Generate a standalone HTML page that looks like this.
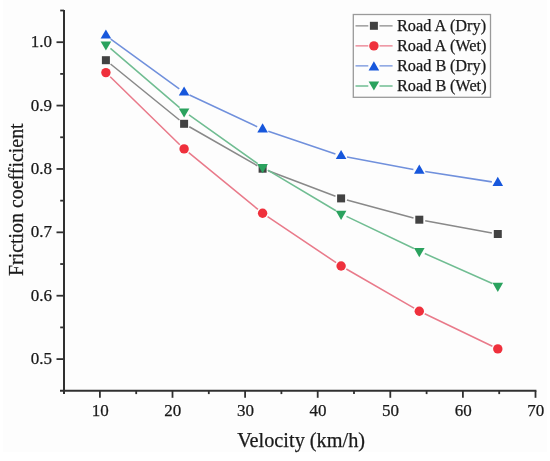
<!DOCTYPE html>
<html><head><meta charset="utf-8"><title>Friction coefficient vs Velocity</title>
<style>
html,body{margin:0;padding:0;background:#ffffff;}
body{width:550px;height:461px;overflow:hidden;}
svg{display:block;font-family:"Liberation Serif","Times New Roman",serif;}
</style></head><body>
<svg width="550" height="461" viewBox="0 0 550 461">
<rect x="0" y="0" width="550" height="461" fill="#ffffff"/>
<rect x="3" y="0" width="544" height="452" fill="#fdfdfd"/>

<g stroke="#303030" stroke-width="2" fill="none" stroke-linecap="butt">
<line x1="64" y1="10" x2="64" y2="394"/>
<line x1="60" y1="390.8" x2="536.4" y2="390.8"/>
<line x1="56.5" y1="359.10" x2="64" y2="359.10" stroke-width="1.8"/>
<line x1="60.2" y1="327.41" x2="64" y2="327.41" stroke-width="1.8"/>
<line x1="56.5" y1="295.72" x2="64" y2="295.72" stroke-width="1.8"/>
<line x1="60.2" y1="264.03" x2="64" y2="264.03" stroke-width="1.8"/>
<line x1="56.5" y1="232.34" x2="64" y2="232.34" stroke-width="1.8"/>
<line x1="60.2" y1="200.65" x2="64" y2="200.65" stroke-width="1.8"/>
<line x1="56.5" y1="168.96" x2="64" y2="168.96" stroke-width="1.8"/>
<line x1="60.2" y1="137.27" x2="64" y2="137.27" stroke-width="1.8"/>
<line x1="56.5" y1="105.58" x2="64" y2="105.58" stroke-width="1.8"/>
<line x1="60.2" y1="73.89" x2="64" y2="73.89" stroke-width="1.8"/>
<line x1="56.5" y1="42.20" x2="64" y2="42.20" stroke-width="1.8"/>
<line x1="60.2" y1="10.51" x2="64" y2="10.51" stroke-width="1.8"/>
<line x1="99.90" y1="390.8" x2="99.90" y2="397.8" stroke-width="1.8"/>
<line x1="136.20" y1="390.8" x2="136.20" y2="394.1" stroke-width="1.8"/>
<line x1="172.50" y1="390.8" x2="172.50" y2="397.8" stroke-width="1.8"/>
<line x1="208.80" y1="390.8" x2="208.80" y2="394.1" stroke-width="1.8"/>
<line x1="245.10" y1="390.8" x2="245.10" y2="397.8" stroke-width="1.8"/>
<line x1="281.40" y1="390.8" x2="281.40" y2="394.1" stroke-width="1.8"/>
<line x1="317.70" y1="390.8" x2="317.70" y2="397.8" stroke-width="1.8"/>
<line x1="354.00" y1="390.8" x2="354.00" y2="394.1" stroke-width="1.8"/>
<line x1="390.30" y1="390.8" x2="390.30" y2="397.8" stroke-width="1.8"/>
<line x1="426.60" y1="390.8" x2="426.60" y2="394.1" stroke-width="1.8"/>
<line x1="462.90" y1="390.8" x2="462.90" y2="397.8" stroke-width="1.8"/>
<line x1="499.20" y1="390.8" x2="499.20" y2="394.1" stroke-width="1.8"/>
<line x1="535.50" y1="390.8" x2="535.50" y2="397.8" stroke-width="1.8"/>
</g>
<g fill="#1a1a1a" font-size="17" stroke="#1a1a1a" stroke-width="0.25">
<text x="52.1" y="47.2" text-anchor="end">1.0</text>
<text x="52.1" y="110.6" text-anchor="end">0.9</text>
<text x="52.1" y="174.0" text-anchor="end">0.8</text>
<text x="52.1" y="237.3" text-anchor="end">0.7</text>
<text x="52.1" y="300.7" text-anchor="end">0.6</text>
<text x="52.1" y="364.1" text-anchor="end">0.5</text>
<text x="100.2" y="416.2" text-anchor="middle">10</text>
<text x="172.8" y="416.2" text-anchor="middle">20</text>
<text x="245.4" y="416.2" text-anchor="middle">30</text>
<text x="318.0" y="416.2" text-anchor="middle">40</text>
<text x="390.6" y="416.2" text-anchor="middle">50</text>
<text x="463.2" y="416.2" text-anchor="middle">60</text>
<text x="535.8" y="416.2" text-anchor="middle">70</text>
</g>
<text x="237.2" y="447.0" font-size="20.3" fill="#1a1a1a" stroke="#1a1a1a" stroke-width="0.25">Velocity (km/h)</text>
<text transform="translate(22.9,276) rotate(-90)" x="0" y="0" font-size="19.9" fill="#1a1a1a" stroke="#1a1a1a" stroke-width="0.25">Friction coefficient</text>
<path d="M110.55,63.99L179.45,120.01M189.31,126.78L257.39,165.72M268.21,170.82L335.49,196.28M346.89,199.98L413.51,218.12M425.20,220.78L491.90,232.92" stroke="#898989" stroke-width="1.55" fill="none"/>
<rect x="101.90" y="56.20" width="8.0" height="8.0" fill="#424242"/>
<rect x="180.10" y="119.80" width="8.0" height="8.0" fill="#424242"/>
<rect x="258.60" y="164.70" width="8.0" height="8.0" fill="#424242"/>
<rect x="337.10" y="194.40" width="8.0" height="8.0" fill="#424242"/>
<rect x="415.30" y="215.70" width="8.0" height="8.0" fill="#424242"/>
<rect x="493.80" y="230.00" width="8.0" height="8.0" fill="#424242"/>
<path d="M110.19,76.79L179.81,144.71M188.74,152.70L257.96,209.40M267.58,216.55L336.12,262.65M346.29,269.00L414.11,308.20M424.71,313.80L492.39,346.30" stroke="#e97a8a" stroke-width="1.55" fill="none"/>
<circle cx="105.90" cy="72.60" r="4.7" fill="#ef303c"/>
<circle cx="184.10" cy="148.90" r="4.7" fill="#ef303c"/>
<circle cx="262.60" cy="213.20" r="4.7" fill="#ef303c"/>
<circle cx="341.10" cy="266.00" r="4.7" fill="#ef303c"/>
<circle cx="419.30" cy="311.20" r="4.7" fill="#ef303c"/>
<circle cx="497.80" cy="348.90" r="4.7" fill="#ef303c"/>
<path d="M110.75,39.03L179.25,88.97M189.53,95.05L257.17,126.75M268.28,131.23L335.42,154.07M347.00,157.10L413.40,169.50M425.23,171.52L491.87,181.88" stroke="#7090dc" stroke-width="1.55" fill="none"/>
<polygon points="105.90,29.40 111.20,38.60 100.60,38.60" fill="#1757dc"/>
<polygon points="184.10,86.40 189.40,95.60 178.80,95.60" fill="#1757dc"/>
<polygon points="262.60,123.20 267.90,132.40 257.30,132.40" fill="#1757dc"/>
<polygon points="341.10,149.90 346.40,159.10 335.80,159.10" fill="#1757dc"/>
<polygon points="419.30,164.50 424.60,173.70 414.00,173.70" fill="#1757dc"/>
<polygon points="497.80,176.70 503.10,185.90 492.50,185.90" fill="#1757dc"/>
<path d="M110.46,48.40L179.54,107.60M189.00,114.97L257.70,163.63M267.76,170.17L335.94,210.73M346.52,216.38L413.88,248.52M424.79,253.53L492.31,283.47" stroke="#70bd92" stroke-width="1.55" fill="none"/>
<polygon points="100.60,41.40 111.20,41.40 105.90,50.60" fill="#2aa25e"/>
<polygon points="178.80,108.40 189.40,108.40 184.10,117.60" fill="#2aa25e"/>
<polygon points="257.30,164.00 267.90,164.00 262.60,173.20" fill="#2aa25e"/>
<polygon points="335.80,210.70 346.40,210.70 341.10,219.90" fill="#2aa25e"/>
<polygon points="414.00,248.00 424.60,248.00 419.30,257.20" fill="#2aa25e"/>
<polygon points="492.50,282.80 503.10,282.80 497.80,292.00" fill="#2aa25e"/>
<rect x="353.3" y="14.5" width="137.2" height="82.8" fill="none" stroke="#9a9a9a" stroke-width="1.3"/>
<path d="M355.5,25.8H368.3M379.5,25.8H392.6" stroke="#898989" stroke-width="1.3"/>
<rect x="369.90" y="21.80" width="8.0" height="8.0" fill="#424242"/>
<text x="397" y="30.8" font-size="16.3" fill="#1a1a1a" stroke="#1a1a1a" stroke-width="0.25">Road A<tspan dx="3.6">(Dry)</tspan></text>
<path d="M355.5,45.9H368.3M379.5,45.9H392.6" stroke="#e97a8a" stroke-width="1.3"/>
<circle cx="373.90" cy="45.90" r="4.7" fill="#ef303c"/>
<text x="397" y="50.9" font-size="16.3" fill="#1a1a1a" stroke="#1a1a1a" stroke-width="0.25">Road A<tspan dx="3.6">(Wet)</tspan></text>
<path d="M355.5,65.9H368.3M379.5,65.9H392.6" stroke="#7090dc" stroke-width="1.3"/>
<polygon points="373.90,61.30 379.20,70.50 368.60,70.50" fill="#1757dc"/>
<text x="397" y="70.9" font-size="16.3" fill="#1a1a1a" stroke="#1a1a1a" stroke-width="0.25">Road B<tspan dx="3.6">(Dry)</tspan></text>
<path d="M355.5,86.0H368.3M379.5,86.0H392.6" stroke="#70bd92" stroke-width="1.3"/>
<polygon points="368.60,81.40 379.20,81.40 373.90,90.60" fill="#2aa25e"/>
<text x="397" y="91.0" font-size="16.3" fill="#1a1a1a" stroke="#1a1a1a" stroke-width="0.25">Road B<tspan dx="3.6">(Wet)</tspan></text>
</svg></body></html>
